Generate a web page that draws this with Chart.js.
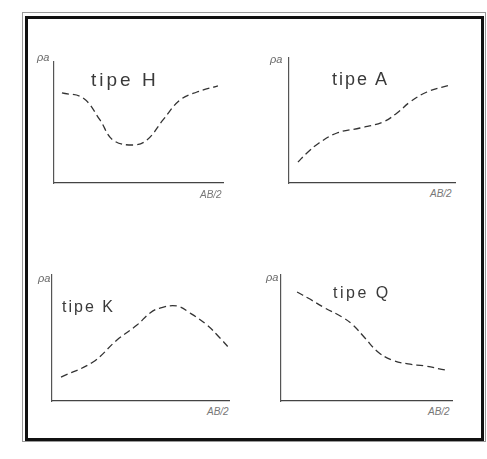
<!DOCTYPE html>
<html>
<head>
<meta charset="utf-8">
<script src="https://cdn.jsdelivr.net/npm/chart.js@4"></script>
<style>
  html, body { margin: 0; padding: 0; background: #fff; }
  body { width: 487px; height: 459px; position: relative; overflow: hidden; font-family: "Liberation Sans", Arial, sans-serif; }
  .frame-outer { position: absolute; left: 22px; top: 12px; width: 462px; height: 428px; border: 1px solid #999; }
  .frame-inner { position: absolute; left: 25px; top: 16px; width: 453px; height: 419px; border: 3px solid #111; }
  .box { position: absolute; }
  .lbl { position: absolute; color: #444; white-space: nowrap; line-height: 1; }
  .title { color: #3a3a3a; }
  .yl { font-size: 11px; font-style: italic; color: #666; }
  .xl { font-size: 10px; font-style: italic; color: #777; }
</style>
</head>
<body>
<div class="frame-outer"></div>
<div class="frame-inner"></div>

<div class="box" style="left:49px;top:57px;width:179px;height:131px"><canvas id="chH"></canvas></div>
<div class="box" style="left:284px;top:53px;width:176px;height:135px"><canvas id="chA"></canvas></div>
<div class="box" style="left:47px;top:270px;width:187px;height:136px"><canvas id="chK"></canvas></div>
<div class="box" style="left:276px;top:270px;width:181px;height:136px"><canvas id="chQ"></canvas></div>

<div class="lbl title" style="left:91px;top:70px;font-size:19px;letter-spacing:3px">tipe H</div>
<div class="lbl title" style="left:332px;top:70px;font-size:18px;letter-spacing:2px">tipe A</div>
<div class="lbl title" style="left:62px;top:299px;font-size:16px;letter-spacing:2px">tipe K</div>
<div class="lbl title" style="left:333px;top:285px;font-size:16px;letter-spacing:2.5px">tipe Q</div>

<div class="lbl yl" style="left:37px;top:52px">ρa</div>
<div class="lbl yl" style="left:270px;top:54px">ρa</div>
<div class="lbl yl" style="left:38px;top:273px">ρa</div>
<div class="lbl yl" style="left:266px;top:272px">ρa</div>

<div class="lbl xl" style="left:200px;top:190px">AB/2</div>
<div class="lbl xl" style="left:430px;top:189px">AB/2</div>
<div class="lbl xl" style="left:207px;top:407px">AB/2</div>
<div class="lbl xl" style="left:428px;top:407px">AB/2</div>

<script>
// values, both axes on a 0..100 scale
const hX = [4.7, 17.2, 27.2, 34.9, 46.7, 55.0, 64.5, 74.6, 84.6, 97.0];
const hY = [74.4, 70.2, 52.1, 35.5, 31.4, 35.5, 52.1, 68.6, 75.2, 80.2];

const aX = [5.4, 10.8, 18.1, 28.9, 42.8, 56.6, 65.1, 72.9, 83.1, 97.0];
const aY = [16.8, 24.0, 32.0, 40.0, 44.0, 48.8, 56.0, 64.8, 72.8, 78.4];

const kX = [5.1, 23.2, 36.7, 48.0, 55.4, 61.0, 70.6, 78.0, 87.6, 94.9, 100];
const kY = [19.0, 31.0, 48.4, 60.3, 69.8, 73.8, 75.4, 69.8, 60.3, 50.0, 42.1];

const qX = [9.4, 15.8, 25.7, 35.7, 42.1, 49.1, 56.7, 64.9, 74.3, 84.2, 95.9];
const qY = [86.5, 81.7, 73.8, 66.7, 60.3, 50.0, 38.9, 32.5, 29.4, 27.8, 24.6];

function makeCurve(id, xs, ys) {
  const pts = xs.map((x, i) => ({ x: x, y: ys[i] }));
  new Chart(document.getElementById(id).getContext("2d"), {
    type: "line",
    data: {
      datasets: [{
        data: pts,
        borderColor: "#333",
        borderWidth: 1.3,
        borderDash: [7, 4],
        pointRadius: 0,
        tension: 0.4,
        fill: false,
        clip: false,
      }],
    },
    options: {
      responsive: true,
      maintainAspectRatio: false,
      animation: false,
      layout: { padding: 5 },
      plugins: { legend: { display: false }, tooltip: { enabled: false } },
      scales: {
        x: {
          type: "linear", min: 0, max: 100,
          grid: { display: false, drawTicks: false },
          ticks: { display: false },
          border: { display: true, color: "#444", width: 1.2, dash: [5, 2] },
          afterFit: (s) => { s.height = 0; },
        },
        y: {
          type: "linear", min: 0, max: 100,
          grid: { display: false, drawTicks: false },
          ticks: { display: false },
          border: { display: true, color: "#555", width: 1.2, dash: [2, 2] },
          afterFit: (s) => { s.width = 0; },
        },
      },
    },
  });
}

makeCurve("chH", hX, hY);
makeCurve("chA", aX, aY);
makeCurve("chK", kX, kY);
makeCurve("chQ", qX, qY);
</script>
</body>
</html>
